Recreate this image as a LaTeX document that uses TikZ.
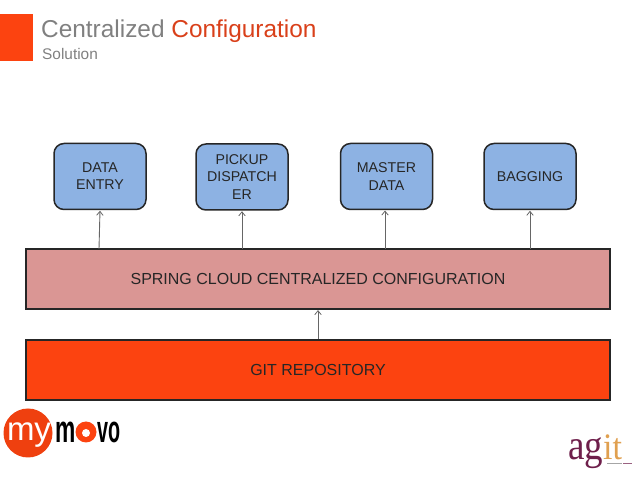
\documentclass[tikz,border=0pt]{standalone}
\usepackage{fontspec}
\setmainfont{Liberation Sans}
\newfontfamily\agitfont{Liberation Serif}
\usetikzlibrary{arrows.meta}
\definecolor{brandred}{HTML}{FC4310}
\definecolor{titlegray}{HTML}{808080}
\definecolor{titlered}{HTML}{D9401A}
\definecolor{boxblue}{HTML}{8DB2E3}
\definecolor{boxpink}{HTML}{DA9694}
\definecolor{agitplum}{HTML}{6E1F4B}
\definecolor{agitgold}{HTML}{E0A050}
\tikzset{
  x=1pt,y=-1pt,
  appbox/.style={draw=black!85,line width=1.5pt,rounded corners=10pt,fill=boxblue,minimum width=92pt,minimum height=66pt,inner sep=1pt,align=center,font=\fontsize{14.2}{17.8}\selectfont,text=black!85},
  bar/.style={draw=black!85,line width=1.2pt,minimum width=584pt,minimum height=60pt,inner sep=0pt,font=\fontsize{16}{18}\selectfont,text=black!85},
  link/.style={draw=black!60,line width=0.9pt,-{Straight Barb[length=4pt,width=6.5pt,line width=.8pt]},shorten >=0.5pt},
  movotext/.style={anchor=base west,inner sep=0pt,font=\bfseries\fontsize{38}{38}\selectfont,text=black},
}
\begin{document}
\begin{tikzpicture}
\useasboundingbox (0,0) rectangle (638,478);
\fill[brandred] (0,14) rectangle (33,61);
\node[anchor=base west,inner sep=0pt,font=\fontsize{24.4}{26}\selectfont,text=titlegray] (title) at (41,38) {Centralized \textcolor{titlered}{Configuration}};
\node[anchor=base west,inner sep=0pt,font=\fontsize{15.4}{17}\selectfont,text=titlegray] (sub) at (42,60) {Solution};

\node[appbox] (data) at (100,176.5) {\raisebox{-1pt}{DATA}\\ENTRY};
\node[appbox] (pickup) at (242,177) {PICKUP\\DISPATCH\\ER};
\node[appbox] (master) at (386.5,176.5) {MASTER\\DATA};
\node[appbox] (bagging) at (530,176.5) {BAGGING};
\node[bar,fill=boxpink] (spring) at (318,279) {\raisebox{-1.5pt}{SPRING CLOUD CENTRALIZED CONFIGURATION}};
\node[bar,fill=brandred] (git) at (318,370) {\raisebox{-1.5pt}{GIT REPOSITORY}};

\coordinate (s1) at (99,249);
\coordinate (s2) at (242,249);
\coordinate (s3) at (385,249);
\coordinate (s4) at (530,249);
\draw[link] (s1) -- (data.south);
\draw[link] (s2) -- (pickup.south);
\draw[link] (s3) -- (385,210);
\draw[link] (s4) -- (bagging.south);
\draw[link] (git.north) -- (spring.south);

% mymovo logo
\fill[brandred!95!black] (28,433) circle (24.5);
\node[inner sep=0pt,text=white,font=\fontsize{33}{33}\selectfont] (my) at (29,435) {my};
\node[movotext,xscale=.6] (movo1) at (55,443) {m};
\fill[brandred] (86,432) circle (10.5);
\fill[white] (86,433) circle (4);
\node[movotext,xscale=.52] (movo2) at (97,443) {vo};

% agit logo
\node[anchor=base west,inner sep=0pt,yscale=1.15,font=\agitfont\fontsize{37}{37}\selectfont,text=agitplum] (ag) at (568,460) {ag};
\node[anchor=base west,inner sep=0pt,yscale=1.1,font=\agitfont\fontsize{34}{34}\selectfont,text=agitgold] (it) at (603,460) {it};
\fill[black!35] (607,463) rectangle (622,464);
\fill[agitplum!70] (623,463) rectangle (632,464);
\end{tikzpicture}
\end{document}
